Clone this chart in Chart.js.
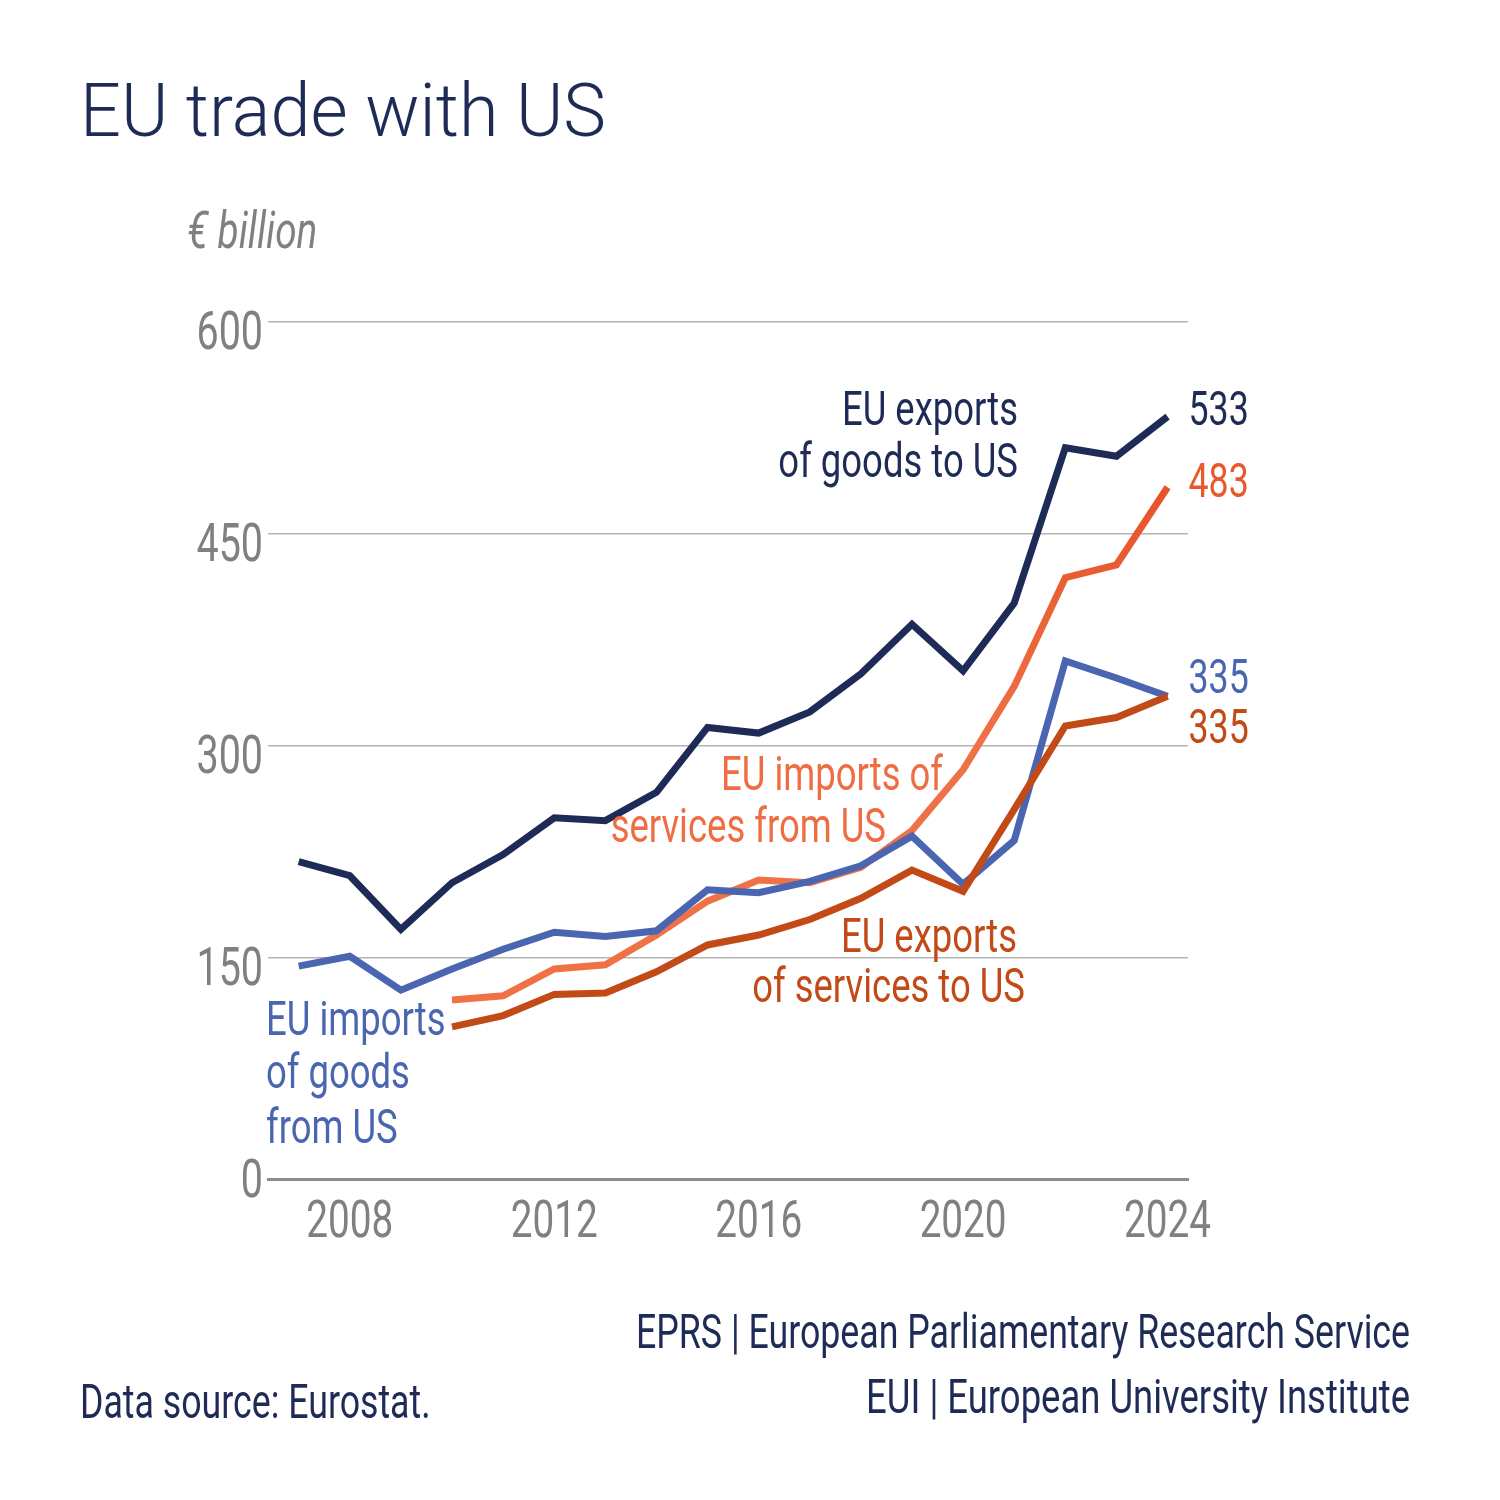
<!DOCTYPE html>
<html>
<head>
<meta charset="utf-8">
<title>EU trade with US</title>
<script src="https://cdn.jsdelivr.net/npm/chart.js@4.4.1/dist/chart.umd.min.js"></script>
<style>
    html, body { margin: 0; padding: 0; background: #fff; }
    canvas { display: block; }
</style>
</head>
<body>
<canvas id="grafico" width="1500" height="1500"></canvas>
<script>
(function (window, document) {
    'use strict';

    // dados (EUR bilhoes)
    var anos = [2007, 2008, 2009, 2010, 2011, 2012, 2013, 2014, 2015, 2016, 2017, 2018, 2019, 2020, 2021, 2022, 2023, 2024];
    var exportsGoods = [218, 208, 170, 203, 223, 249, 247, 267, 313, 309, 324, 351, 386, 353, 401, 511, 505, 533];
    var importsServices = [null, null, null, 120, 123, 142, 145, 166, 190, 205, 203, 214, 240, 283, 342, 419, 428, 483];
    var importsGoods = [144, 151, 127, 142, 156, 168, 165, 169, 198, 196, 204, 215, 236, 202, 233, 360, 348, 335];
    var exportsServices = [null, null, null, 101, 109, 124, 125, 140, 159, 166, 177, 192, 212, 197, 255, 314, 320, 335];
    var yTicks = [0, 150, 300, 450, 600];
    var xTicks = [2008, 2012, 2016, 2020, 2024];

    var NAVY = '#1F2B57';
    var BLUE = '#4A66B0';
    var ORANGE = '#EE6D43';
    var DARK_ORANGE = '#C24A17';
    var GREY = '#808080';
    var FONT = 'Roboto, "Noto Sans", sans-serif';

    function pontos(valores) {
        return anos.map(function (ano, i) {
            return { x: ano, y: valores[i] };
        });
    }

    function serie(valores, cor, ordem) {
        return {
            data: pontos(valores),
            borderColor: cor,
            borderWidth: 7,
            borderJoinStyle: 'miter',
            pointRadius: 0,
            tension: 0,
            spanGaps: false,
            order: ordem
        };
    }

    // laranja do import de servicos fica mais avermelhado no topo
    function gradienteLaranja(ctx) {
        var chart = ctx.chart;
        if (!chart.chartArea) return ORANGE;
        var y = chart.scales.y;
        var g = chart.ctx.createLinearGradient(0, y.getPixelForValue(300), 0, y.getPixelForValue(480));
        g.addColorStop(0, '#EF7247');
        g.addColorStop(1, '#E7532A');
        return g;
    }

    var rotulos = [
        { cor: NAVY, align: 'right', linhas: [['EU exports', 1018, 425], ['of goods to US', 1018, 477]] },
        { cor: ORANGE, align: 'right', linhas: [['EU imports of', 943, 790], ['services from US', 886, 842]] },
        { cor: DARK_ORANGE, align: 'right', linhas: [['EU exports', 1017, 952], ['of services to US', 1025, 1002]] },
        { cor: BLUE, align: 'left', linhas: [['EU imports', 266, 1035], ['of goods', 266, 1088], ['from US', 266, 1143]] }
    ];

    var finais = [
        { valores: exportsGoods, cor: NAVY, dy: 8 },
        { valores: importsServices, cor: '#E8582B', dy: 10 },
        { valores: importsGoods, cor: BLUE, dy: -3 },
        { valores: exportsServices, cor: DARK_ORANGE, dy: 47 }
    ];

    var textos = {
        id: 'textos',
        afterDraw: function (chart) {
            var c = chart.ctx;
            var sx = chart.scales.x;
            var sy = chart.scales.y;

            // fator de condensacao: a linha do rodape tem ~774px
            c.save();
            c.font = '400 48px ' + FONT;
            var k = 774 / c.measureText('EPRS | European Parliamentary Research Service').width;
            c.restore();

            function txt(s, x, y, size, cor, align, estilo, fator) {
                c.save();
                c.font = (estilo || '400') + ' ' + size + 'px ' + FONT;
                c.fillStyle = cor;
                c.textAlign = align;
                c.textBaseline = 'alphabetic';
                c.translate(x, y);
                c.scale(fator || k, 1);
                c.fillText(s, 0, 0);
                c.restore();
            }

            // titulo
            c.save();
            c.font = '300 74px ' + FONT;
            var kt = 526 / c.measureText('EU trade with US').width;
            c.restore();
            txt('EU trade with US', 80, 136, 74, NAVY, 'left', '300', kt);

            txt('€ billion', 187, 248, 52, GREY, 'left', 'italic 400');

            yTicks.forEach(function (v) {
                txt(String(v), 263, sy.getPixelForValue(v) + 27, 53, GREY, 'right');
            });
            xTicks.forEach(function (v) {
                txt(String(v), sx.getPixelForValue(v), 1237, 52, GREY, 'center');
            });

            rotulos.forEach(function (r) {
                r.linhas.forEach(function (l) {
                    txt(l[0], l[1], l[2], 49, r.cor, r.align);
                });
            });

            finais.forEach(function (f) {
                var ultimo = f.valores[f.valores.length - 1];
                txt(String(ultimo), sx.getPixelForValue(anos[anos.length - 1]) + 21,
                    sy.getPixelForValue(ultimo) + f.dy, 48, f.cor, 'left');
            });

            txt('EPRS | European Parliamentary Research Service', 1410, 1348, 48, NAVY, 'right');
            txt('EUI | European University Institute', 1410, 1413, 49, NAVY, 'right');
            txt('Data source: Eurostat.', 80, 1418, 48, NAVY, 'left');
        }
    };

    var $grafico = document.getElementById('grafico');

    new Chart($grafico, {
        type: 'line',
        data: {
            datasets: [
                serie(exportsServices, DARK_ORANGE, 0),
                serie(importsGoods, BLUE, 1),
                serie(importsServices, gradienteLaranja, 2),
                serie(exportsGoods, NAVY, 3)
            ]
        },
        options: {
            responsive: false,
            animation: false,
            devicePixelRatio: 1,
            layout: {
                padding: { left: 0, right: 312, top: 322, bottom: 321 }
            },
            plugins: {
                legend: { display: false },
                tooltip: { enabled: false }
            },
            scales: {
                x: {
                    type: 'linear',
                    min: 2006.4,
                    max: 2024.4,
                    grid: { display: false },
                    border: { display: true, color: '#8C8C8C', width: 3 },
                    ticks: { display: false },
                    afterFit: function (s) { s.height = 0; }
                },
                y: {
                    type: 'linear',
                    min: -6.7,
                    max: 600,
                    afterBuildTicks: function (s) {
                        s.ticks = yTicks.map(function (v) { return { value: v }; });
                    },
                    grid: {
                        color: function (ctx) {
                            return ctx.tick && ctx.tick.value === 0 ? 'rgba(0,0,0,0)' : '#B4B4B4';
                        },
                        lineWidth: 1.5,
                        drawTicks: false
                    },
                    border: { display: false },
                    ticks: { display: false },
                    afterFit: function (s) { s.width = 268; }
                }
            }
        },
        plugins: [textos]
    });
})(window, document);
</script>
</body>
</html>
